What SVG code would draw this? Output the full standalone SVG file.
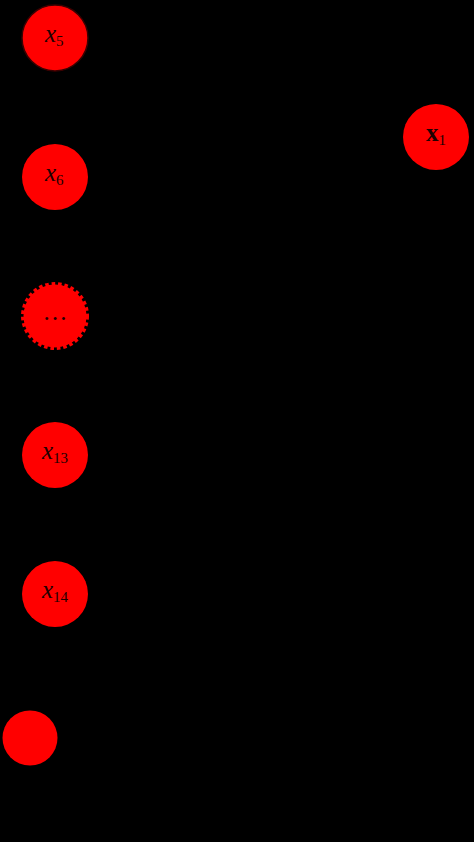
<svg xmlns="http://www.w3.org/2000/svg" width="474" height="842" viewBox="0 0 474 842">
<style>
.n{fill:#ff0000;}
.t{font-family:"Liberation Serif","DejaVu Serif",serif;fill:#200000;font-size:25px;}
.i{font-style:italic;}
.s{font-size:15px;font-style:normal;}
</style>
<rect width="474" height="842" fill="#000"/>
<g id="connectors"></g>
<g id="x5"><circle class="n" cx="55" cy="38" r="33" stroke="#3a0000" stroke-width="1.5"/><text class="t" x="45" y="42"><tspan class="i">x</tspan><tspan class="s" dy="4">5</tspan></text></g>
<g id="x6"><circle class="n" cx="55" cy="177" r="33"/><text class="t" x="45" y="181"><tspan class="i">x</tspan><tspan class="s" dy="4">6</tspan></text></g>
<g id="dots"><circle class="n" cx="55" cy="316" r="31.5" stroke="#ff0000" stroke-width="5" stroke-dasharray="3.5 2.8"/><text class="t" x="55" y="320" text-anchor="middle" font-size="20">…</text></g>
<g id="x13"><circle class="n" cx="55" cy="455" r="33"/><text class="t" x="42" y="459"><tspan class="i">x</tspan><tspan class="s" dy="4">13</tspan></text></g>
<g id="x14"><circle class="n" cx="55" cy="594" r="33"/><text class="t" x="42" y="598"><tspan class="i">x</tspan><tspan class="s" dy="4">14</tspan></text></g>
<g id="bottom"><circle class="n" cx="30" cy="738" r="27.5"/></g>
<g id="x1"><circle class="n" cx="436" cy="137" r="33"/><text class="t" x="426" y="141" font-weight="bold">x<tspan class="s" dy="4" font-weight="normal">1</tspan></text></g>
</svg>
